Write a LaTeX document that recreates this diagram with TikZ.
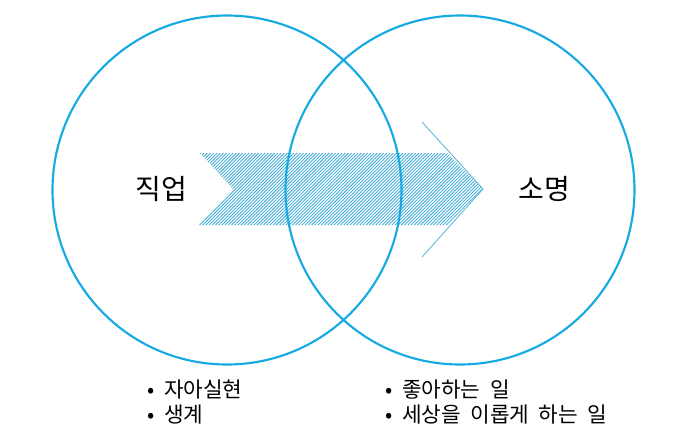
\documentclass[tikz,border=0pt]{standalone}
\usepackage{fontspec}
\setmainfont{Noto Sans CJK KR}
\newfontfamily\bulletfont[WordSpace=2]{Noto Sans CJK KR}
\usetikzlibrary{patterns.meta}
\definecolor{ringblue}{RGB}{22,170,226}
\definecolor{hatchblue}{RGB}{40,160,210}
\begin{document}
\begin{tikzpicture}[x=0.75pt,y=-0.75pt,
  ring/.style={draw=ringblue,line width=1.6pt,circle,minimum size=349*0.75pt,inner sep=0pt},
  biglabel/.style={font=\fontsize{21pt}{25pt}\selectfont,inner sep=0pt},
  bullets/.style={font=\bulletfont\fontsize{16pt}{18.8pt}\selectfont,align=left,anchor=west,inner sep=0pt}]
\useasboundingbox (0,0) rectangle (690,447);
% hatched arrow
\fill[pattern={Lines[angle=45,distance=1.7pt,line width=0.55pt]},pattern color=hatchblue]
  (200,153) -- (447,153) -- (483,189) -- (447,225) -- (198,225) -- (233,189) -- cycle;
\coordinate (headtop) at (422,122);
\coordinate (tip) at (483,189);
\coordinate (headbot) at (422,257);
\draw[hatchblue!80,line width=0.6pt] (headtop) -- (tip) -- (headbot);
% circles
\node[ring] (left) at (227,190) {};
\node[ring] (right) at (460,190) {};
% labels
\node[biglabel] (job) at (161,189) {직업};
\node[biglabel] (calling) at (544,189) {소명};
\node[bullets] (lb) at (147,402) {• 자아실현\\• 생계};
\node[bullets] (rb) at (385,402) {• 좋아하는 일\\• 세상을 이롭게 하는 일};
\end{tikzpicture}
\end{document}
